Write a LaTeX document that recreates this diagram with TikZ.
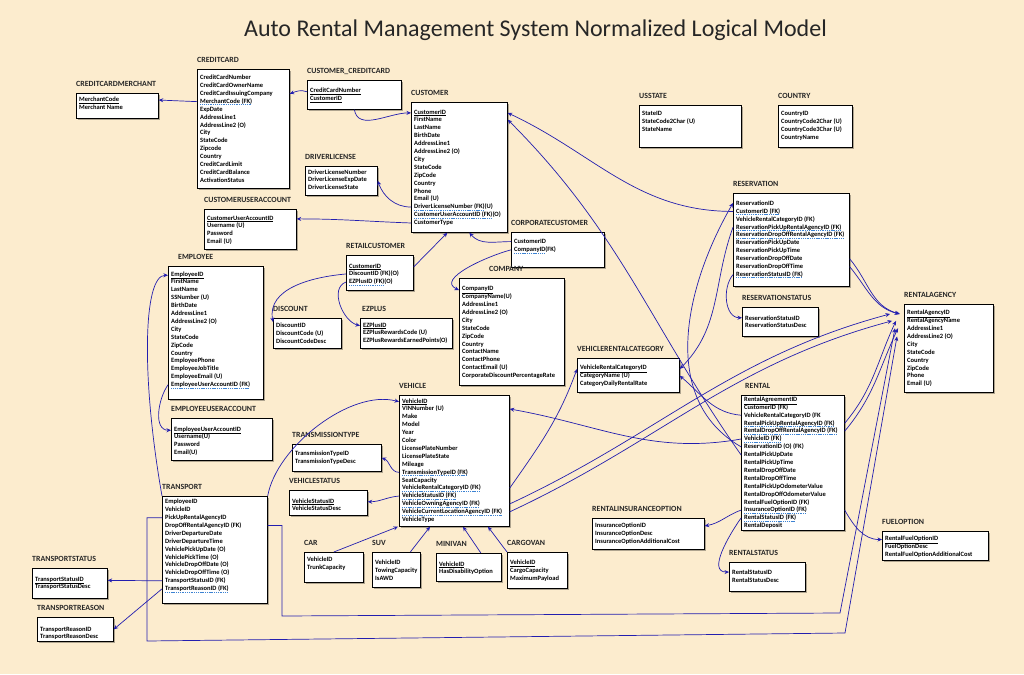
\documentclass[tikz,border=0pt]{standalone}
\usepackage{fontspec}
\setmainfont{Carlito}
\usetikzlibrary{arrows.meta,shadows}

\definecolor{paper}{RGB}{252,236,206}
\definecolor{relblue}{RGB}{35,30,175}
\definecolor{fkblue}{RGB}{60,130,210}

\newcommand{\pk}[1]{\underline{#1}}
\newcommand{\fk}[1]{\setbox0\hbox{#1}\rlap{\color{fkblue}\hbox to \wd0{\xleaders\hbox to 1.8pt{\vrule height -0.9pt depth 1.3pt width 1.1pt\hfil}\hfil}}\box0}

% #1 title shift, #2 name, #3 x, #4 y, #5 width, #6 height, #7 first row, #8 title, #9 fields
\newcommand{\ertable}[9][0]{%
  \node[tbl, minimum width=#5pt, minimum height=#6pt] (#2) at (#3,-#4) {};
  \node[ttl] (#2-t) at (#3+#1,-#4+6.5) {#8};
  \foreach \fname [count=\i] in {#9} {
    \node[fld] (#2-\i) at (#3+3,-#4-#7-2-7.9*\i+7.9) {\fname};
  }%
}

\begin{document}
\begin{tikzpicture}[x=1pt,y=1pt,
    tbl/.style={draw=black, fill=white, line width=0.7pt, anchor=north west, inner sep=0pt,
      drop shadow={shadow xshift=1.3pt, shadow yshift=-1.3pt, fill=black, opacity=0.3}},
    ttl/.style={anchor=base west, inner sep=0pt, font=\fontsize{7.9}{8}\selectfont\bfseries, text=black!85},
    fld/.style={anchor=base west, inner sep=0pt, font=\fontsize{6.5}{7}\selectfont\bfseries},
    rel/.style={draw=relblue, line width=0.7pt, -{Stealth[length=4.5pt,width=4pt]}}]
  \fill[paper] (0,0) rectangle (1024,-674);
  \useasboundingbox (0,0) rectangle (1024,-674);
  \node[font=\fontsize{24}{28}\selectfont, text=black!85] (maintitle) at (535.5,-30)
    {Auto Rental Management System Normalized Logical Model};

  % tables
  \ertable{ccm}{76}{93}{82}{25}{6.3}{CREDITCARDMERCHANT}{\pk{MerchantCode},Merchant Name}
  \ertable{cc}{197}{69}{92}{119}{8.7}{CREDITCARD}{CreditCardNumber,CreditCardOwnerName,CreditCardIssuingCompany,\fk{MerchantCode (FK)},ExpDate,AddressLine1,AddressLine2 (O),City,StateCode,Zipcode,Country,CreditCardLimit,CreditCardBalance,ActivationStatus}
  \ertable{ccc}{307}{80}{94}{29}{11}{CUSTOMER\_CREDITCARD}{\pk{CreditCardNumber},\pk{CustomerID}}
  \ertable{cust}{411}{102}{96}{130}{10}{CUSTOMER}{\pk{CustomerID},FirstName,LastName,BirthDate,AddressLine1,AddressLine2 (O),City,StateCode,ZipCode,Country,Phone,Email (U),\fk{DriverLicenseNumber (FK)} (U),\fk{CustomerUserAccountID (FK)}(O),CustomerType}
  \ertable{dl}{305}{166}{72}{29}{6}{DRIVERLICENSE}{DriverLicenseNumber,DriverLicenseExpDate,DriverLicenseState}
  \ertable{cua}{204}{209}{92}{40}{9}{CUSTOMERUSERACCOUNT}{\pk{CustomerUserAccountID},Username (U),Password,Email (U)}
  \ertable{rc}{346}{255}{67}{35}{11}{RETAILCUSTOMER}{\pk{CustomerID},DiscountID (FK)(O),\fk{EZPlusID (FK)}(O)}
  \ertable{corp}{511}{232}{93}{35}{9.7}{CORPORATECUSTOMER}{CustomerID,\fk{CompanyID} (FK)}
  \ertable[10]{emp}{168}{266}{95}{133}{8}{EMPLOYEE}{\pk{EmployeeID},FirstName,LastName,SSNumber (U),BirthDate,AddressLine1,AddressLine2 (O),City,StateCode,ZipCode,Country,EmployeePhone,EmployeeJobTitle,EmployeeEmail (U),\fk{EmployeeUserAccountID (FK)}}
  \ertable{disc}{273}{318}{68}{30}{7.7}{DISCOUNT}{DiscountID,DiscountCode (U),DiscountCodeDesc}
  \ertable[2]{ez}{360}{318}{92}{30}{7}{EZPLUS}{\pk{EZPlusID},EZPlusRewardsCode (U),EZPlusRewardsEarnedPoints(O)}
  \ertable[30]{comp}{459}{278}{105}{107}{10.7}{COMPANY}{\pk{CompanyID},CompanyName(U),AddressLine1,AddressLine2 (O),City,StateCode,ZipCode,Country,ContactName,ContactPhone,ContactEmail (U),CorporateDiscountPercentageRate}
  \ertable{vrc}{577}{358}{102}{34}{9.7}{VEHICLERENTALCATEGORY}{\pk{VehicleRentalCategoryID},CategoryName (U),CategoryDailyRentalRate}
  \ertable{eua}{171}{418}{101}{42}{11}{EMPLOYEEUSERACCOUNT}{\pk{EmployeeUserAccountID},Username(U),Password,Email(U)}
  \ertable{tt}{292}{444}{89}{27}{9.3}{TRANSMISSIONTYPE}{TransmissionTypeID,TransmissionTypeDesc}
  \ertable{veh}{399}{395}{110}{131}{6}{VEHICLE}{\pk{VehicleID},VINNumber (U),Make,Model,Year,Color,LicensePlateNumber,LicensePlateState,Mileage,\fk{TransmissionTypeID (FK)},SeatCapacity,\fk{VehicleRentalCategoryID (FK)},\fk{VehicleStatusID (FK)},\fk{VehicleOwningAgencyID (FK)},\fk{VehicleCurrentLocationAgencyID (FK)},VehicleType}
  \ertable{vs}{289}{490}{78}{25}{11}{VEHICLESTATUS}{\pk{VehicleStatusID},VehicleStatusDesc}
  \ertable{tr}{162}{496}{105}{107}{5.7}{TRANSPORT}{EmployeeID,VehicleID,PickUpRentalAgencyID,DropOffRentalAgencyID (FK),DriverDepartureDate,DriverDepartureTime,VehiclePickUpDate (O),VehiclePickTime (O),VehicleDropOffDate (O),VehicleDropOffTime (O),TransportStatusID (FK),\fk{TransportReasonID (FK)}}
  \ertable{ts}{32}{568}{75}{30}{11}{TRANSPORTSTATUS}{\pk{TransportStatusID},TransportStatusDesc}
  \ertable{trr}{37}{617}{76}{24}{12}{TRANSPORTREASON}{TransportReasonID,TransportReasonDesc}
  \ertable{car}{304}{552}{59}{30}{7.3}{CAR}{VehicleID,TrunkCapacity}
  \ertable{suv}{372}{552}{48}{35}{10.3}{SUV}{VehicleID,TowingCapacity,IsAWD}
  \ertable{mini}{436}{553}{65}{28}{11}{MINIVAN}{\pk{VehicleID},HasDisabilityOption}
  \ertable{cargo}{507}{552}{60}{36}{10.3}{CARGOVAN}{\pk{VehicleID},CargoCapacity,MaximumPayload}
  \ertable{uss}{639}{105}{102}{42}{8.7}{USSTATE}{StateID,StateCode2Char (U),StateName}
  \ertable{cty}{778}{105}{74}{42}{8.7}{COUNTRY}{CountryID,CountryCode2Char (U),CountryCode3Char (U),CountryName}
  \ertable{res}{733}{193}{116}{93}{10.3}{RESERVATION}{ReservationID,\fk{CustomerID (FK)},VehicleRentalCategoryID (FK),\fk{ReservationPickUpRentalAgencyID (FK)},\fk{ReservationDropOffRentalAgencyID (FK)},ReservationPickUpDate,ReservationPickUpTime,ReservationDropOffDate,ReservationDropOffTime,\fk{ReservationStatusID (FK)}}
  \ertable{rs}{742}{307}{76}{29}{11}{RESERVATIONSTATUS}{ReservationStatusID,ReservationStatusDesc}
  \ertable{ra}{904}{304}{89}{88}{8.7}{RENTALAGENCY}{\pk{RentalAgencyID},RentalAgencyName,AddressLine1,AddressLine2 (O),City,StateCode,Country,ZipCode,Phone,Email (U)}
  \ertable[4]{rent}{741}{395}{103}{135}{4.3}{RENTAL}{\pk{RentalAgreementID},CustomerID (FK),VehicleRentalCategoryID (FK,\fk{RentalPickUpRentalAgencyID (FK)},\fk{RentalDropOffRentalAgencyID (FK)},\fk{VehicleID (FK)},ReservationID (O) (FK),RentalPickUpDate,RentalPickUpTime,RentalDropOffDate,RentalDropOffTime,RentalPickUpOdometerValue,RentalDropOffOdometerValue,RentalFuelOptionID (FK),\fk{InsuranceOptionID (FK)},\fk{RentalStatusID (FK)},RentalDeposit}
  \ertable{rio}{592}{518}{112}{31}{7.7}{RENTALINSURANCEOPTION}{InsuranceOptionID,InsuranceOptionDesc,InsuranceOptionAdditionalCost}
  \ertable{rst}{729}{562}{76}{29}{10.3}{RENTALSTATUS}{RentalStatusID,RentalStatusDesc}
  \ertable{fo}{882}{531}{106}{29}{7.3}{FUELOPTION}{\pk{RentalFuelOptionID},FuelOptionDesc,RentalFuelOptionAdditionalCost}

  % bends of the transport lines
  \coordinate (trbendA) at (147,-641);
  \coordinate (trbendB) at (845,-633);
  \coordinate (trbendC) at (282,-616);
  \coordinate (trbendD) at (840,-613);

  % customer side
  \draw[rel] (cc.west |- cc-4) -- (ccm.east |- ccm-1);
  \draw[rel] (ccc.west |- ccc-1) to[out=160,in=20] (cc.east |- cc-3);
  \draw[rel] (ccc.south) to[out=-80,in=180] (cust.west |- cust-1);
  \draw[rel] (cust.west |- cust-13) to[out=180,in=-70] (dl.east);
  \draw[rel] (cust.west |- cust-15) to[out=178,in=0] (cua.east |- cua-1);
  \draw[rel] (rc.east |- rc-1) -- ([xshift=-12pt]cust.south);
  \draw[rel] (corp.west |- corp-1) to[out=180,in=-50] ([xshift=10pt]cust.south);
  \draw[rel] (corp.west |- corp-2) to[out=195,in=155] (comp.west |- comp-1);
  \draw[rel] (rc.west |- rc-2) to[out=185,in=100] ([yshift=-4pt]disc.north west);
  \draw[rel] (rc.west |- rc-3) to[out=200,in=165] (ez.west |- ez-1);

  % employee, transport, vehicle
  \draw[rel] (emp.west |- emp-15) to[out=235,in=180] (eua.west |- eua-1);
  \draw[rel] (tr.north west) to[out=100,in=180,out distance=120pt,in distance=25pt] (emp.west |- emp-1);
  \draw[rel] (tr.north east) to[out=80,in=165,out distance=50pt,in distance=50pt] (veh.west |- veh-1);
  \draw[rel] (veh.west |- veh-10) to[out=180,in=-20] (tt.east);
  \draw[rel] (veh.west |- veh-13) to[out=185,in=0] (vs.east |- vs-1);
  \draw[rel] (tr.west |- tr-11) -- (ts.east |- ts-1);
  \draw[rel] (tr.west |- tr-12) -- (trr.east);
  \draw[rel] (car.north) -- ([xshift=-1pt]veh.south west);
  \draw[rel] ([xshift=14pt]suv.north) -- ([xshift=31pt]veh.south west);
  \draw[rel] ([xshift=12pt]mini.north) -- ([xshift=64pt]veh.south west);
  \draw[rel] (cargo.north west) -- ([xshift=89pt]veh.south west);
  \draw[rel] (veh.east |- veh-12) to[out=55,in=250] (vrc.west |- vrc-1);
  \draw[rel] (veh.east |- veh-14) to[out=25,in=195] ([xshift=-14pt]ra.west |- ra-1);
  \draw[rel] (veh.east |- veh-15) to[out=25,in=195] ([xshift=-12pt]ra.west |- ra-2);
  \draw[rel] (tr.west |- tr-3) -| (trbendA) -- (trbendB) -- ([xshift=-7pt]ra.west |- ra-4);
  \draw[rel] (tr.east |- tr-4) -| (trbendC) -- (trbendD) -- ([xshift=-9pt]ra.west |- ra-3);

  % reservation and rental
  \draw[rel] (res.west |- res-2) to[out=180,in=-25] (cust.east |- cust-1);
  \draw[rel] (res.west |- res-4) to[out=250,in=45] (vrc.east |- vrc-1);
  \draw[rel] (res.west |- res-10) to[out=230,in=180] (rs.west |- rs-1);
  \draw[rel] (res.east |- res-8) to[out=-50,in=165] ([xshift=-4pt]ra.west |- ra-1);
  \draw[rel] (res.east |- res-9) to[out=-50,in=165] ([xshift=-5pt]ra.west |- ra-1);
  \draw[rel] (rent.west |- rent-8) to[out=125,in=-45] (cust.east |- cust-2);
  \draw[rel] (rent.west |- rent-3) to[out=175,in=-40] (vrc.east |- vrc-2);
  \draw[rel] (rent.west |- rent-6) to[out=190,in=-10] (veh.east |- veh-2);
  \draw[rel] (rent.west |- rent-7) to[out=150,in=240] (res.west |- res-1);
  \draw[rel] (rent.east |- rent-4) to[out=50,in=245] ([xshift=-8pt]ra.west |- ra-2);
  \draw[rel] (rent.east |- rent-5) to[out=50,in=245] ([xshift=-6pt]ra.west |- ra-3);
  \draw[rel] (rent.east |- rent-15) to[out=-60,in=180] (fo.west |- fo-1);
  \draw[rel] (rent.west |- rent-15) to[out=200,in=10] (rio.east |- rio-1);
  \draw[rel] (rent.west |- rent-16) to[out=235,in=180] (rst.west |- rst-1);
\end{tikzpicture}
\end{document}
